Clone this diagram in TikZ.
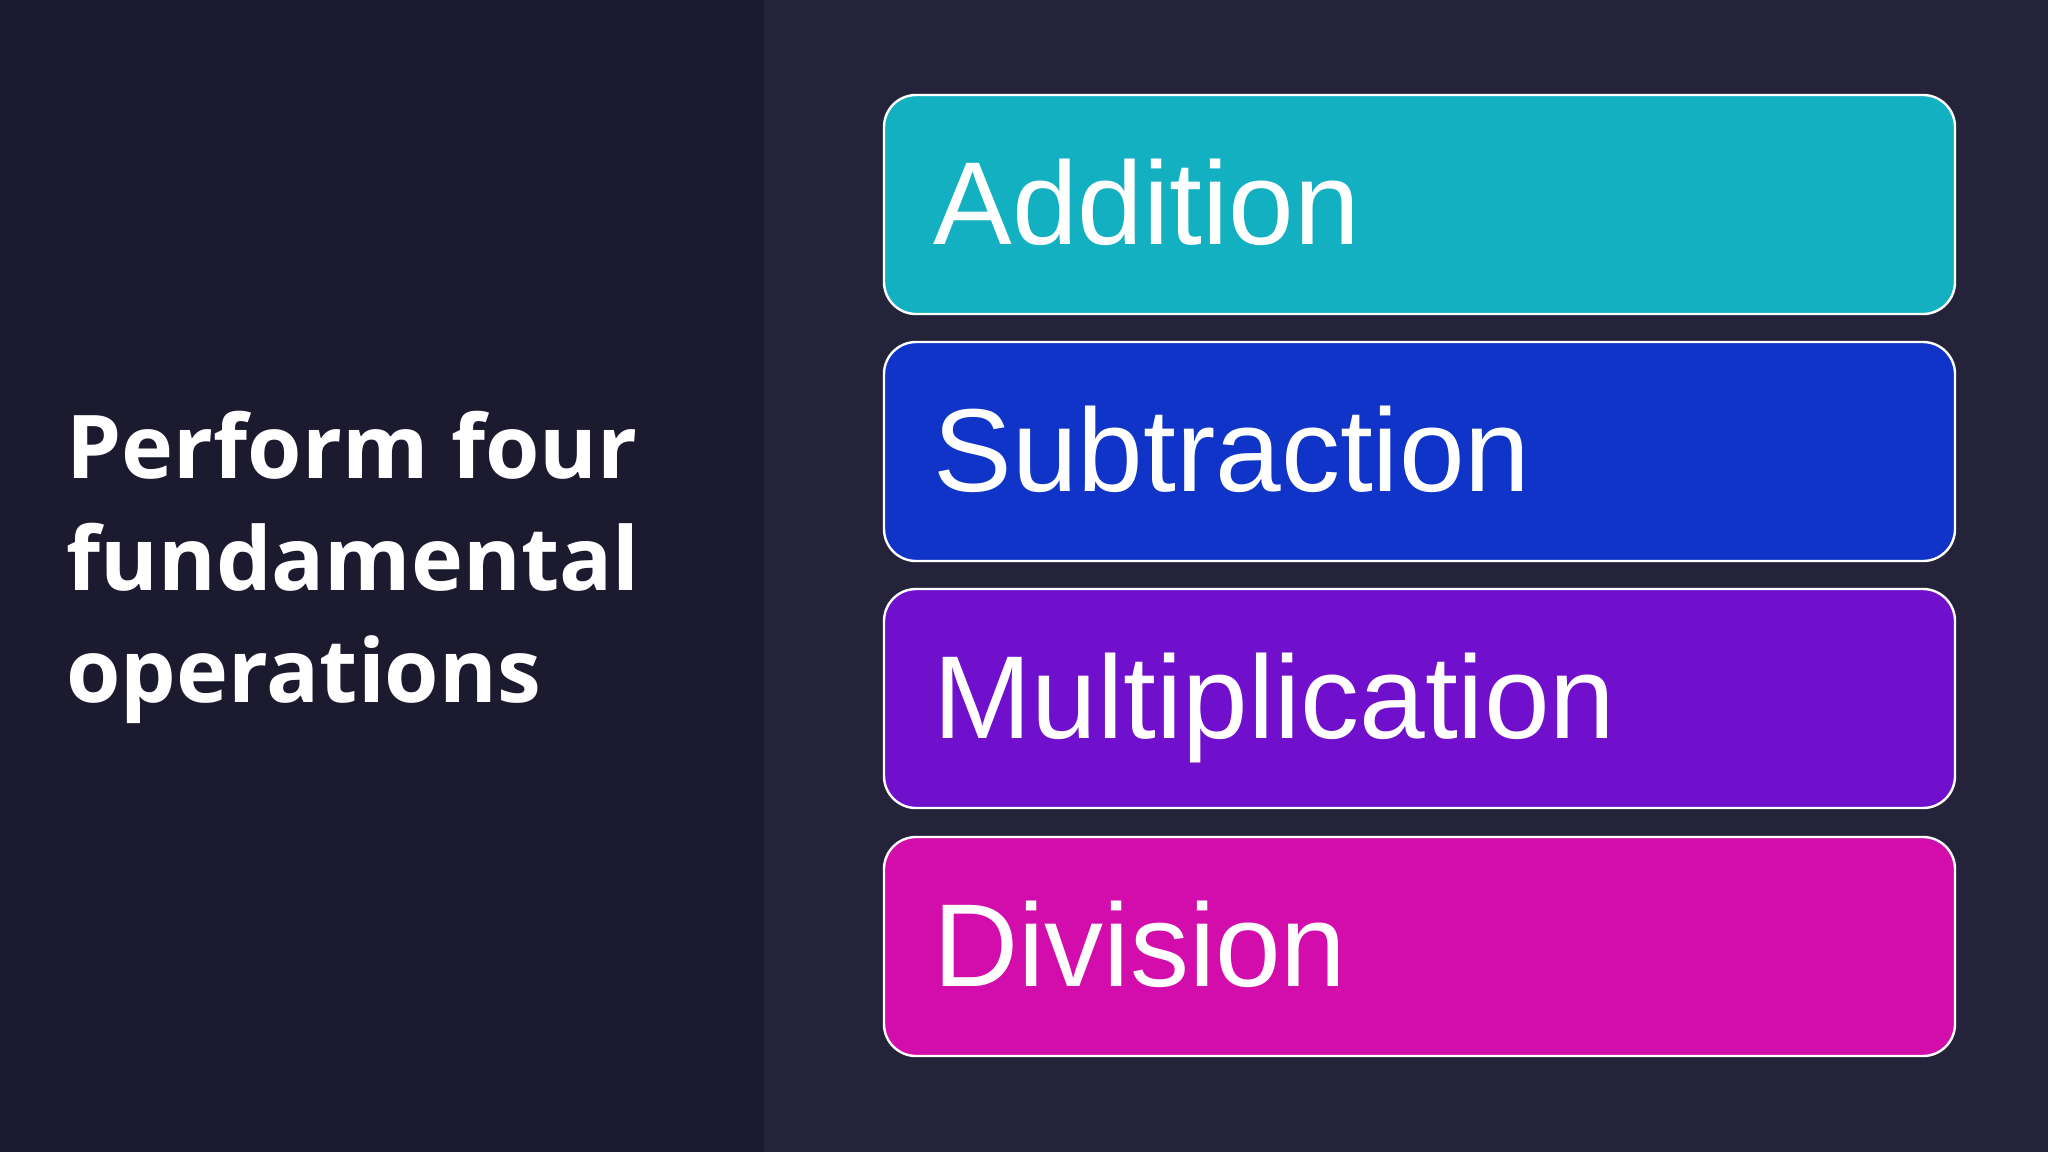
\documentclass[tikz,border=0pt]{standalone}
\usepackage{fontspec}
\setmainfont{Liberation Sans}
\newfontfamily\leftfont{Open Sans}
\definecolor{bgL}{HTML}{1C1A2E}
\definecolor{bgR}{HTML}{25233A}
\definecolor{cA}{HTML}{13B0C2}
\definecolor{cS}{HTML}{1033C8}
\definecolor{cM}{HTML}{700FCC}
\definecolor{cD}{HTML}{D30CAC}
\begin{document}
\begin{tikzpicture}[x=0.5pt,y=-0.5pt,
  opbox/.style={draw=white,line width=1.2pt,rounded corners=16pt},
  optext/.style={anchor=base west,text=white,inner sep=0pt,font=\fontsize{59}{72}\selectfont}]
\useasboundingbox (0,0) rectangle (2048,1152);
\fill[bgR] (0,0) rectangle (2048,1152);
\fill[bgL] (0,0) rectangle (764,1152);
\foreach \n/\c/\t/\y in {a/cA/Addition/95,s/cS/Subtraction/342,m/cM/Multiplication/589,d/cD/Division/837}{
  \draw[opbox,fill=\c] (884,\y) rectangle (1955,\y+219);
  \node[optext] (\n) at (933,\y+149) {\t};
}
\node[anchor=base west,align=left,text=white,inner sep=0pt,
  font=\leftfont\bfseries\fontsize{44}{56}\selectfont] (title) at (66,702)
  {Perform four\\fundamental\\operations};
\end{tikzpicture}
\end{document}
